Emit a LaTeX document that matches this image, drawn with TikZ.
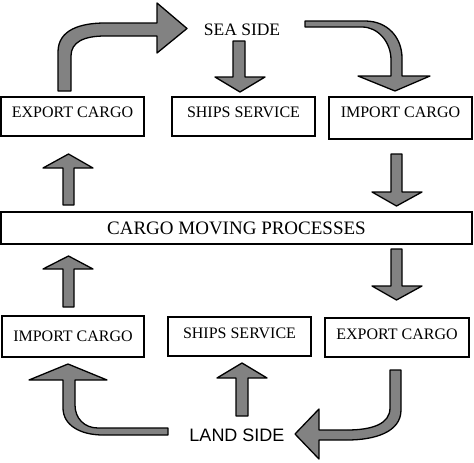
\documentclass[tikz,border=0pt]{standalone}
\usepackage{fontspec}
\setmainfont{Liberation Serif}
\newfontfamily\landfont{Liberation Sans}
\definecolor{arrowgray}{RGB}{130,130,130}
\tikzset{
  cbox/.style={draw, line width=1.5pt, inner sep=0pt, font=\fontsize{16}{18}\selectfont},
  blockarrow/.style={fill=arrowgray, draw=black, line width=1.3pt, line join=round},
  sidelabel/.style={inner sep=0pt}
}
\begin{document}
\begin{tikzpicture}[x=1pt,y=-1pt]
\useasboundingbox (0,0) rectangle (474,463);
% boxes
\node[cbox, minimum width=143pt, minimum height=39pt, text depth=8pt] (exptop) at (72.5,116.5) {EXPORT CARGO};
\node[cbox, minimum width=143pt, minimum height=39pt, text depth=8pt] (shiptop) at (243.5,116.5) {SHIPS SERVICE};
\node[cbox, minimum width=143pt, minimum height=42pt, text depth=11pt] (imptop) at (400.5,118) {IMPORT CARGO};
\node[cbox, minimum width=471pt, minimum height=32pt, font=\fontsize{19}{21}\selectfont] (mid) at (236.5,228) {CARGO MOVING PROCESSES};
\node[cbox, minimum width=142pt, minimum height=41pt] (impbot) at (73,336.5) {IMPORT CARGO};
\node[cbox, minimum width=143pt, minimum height=39pt, text depth=6pt] (shipbot) at (239.5,336.5) {SHIPS SERVICE};
\node[cbox, minimum width=144pt, minimum height=39pt, text depth=7pt] (expbot) at (397,337.5) {EXPORT CARGO};
% labels
\node[sidelabel, font=\fontsize{17.5}{19}\selectfont] (sea) at (242,30) {SEA SIDE};
\node[sidelabel, font=\landfont\fontsize{18}{20}\selectfont] (land) at (237,435.5) {LAND SIDE};
% straight block arrows
\path[blockarrow] (63,205) -- (63,168) -- (43,168) -- (68.5,154) -- (93,168) -- (74,168) -- (74,205) -- cycle;
\path[blockarrow] (63,307) -- (63,269) -- (43,269) -- (68.5,256) -- (93,269) -- (74,269) -- (74,307) -- cycle;
\path[blockarrow] (391,154) -- (391,192) -- (372,192) -- (396.5,206) -- (422,192) -- (402,192) -- (402,154) -- cycle;
\path[blockarrow] (391,249) -- (391,286) -- (372,286) -- (396.5,300) -- (422,286) -- (402,286) -- (402,249) -- cycle;
\path[blockarrow] (233,41) -- (233,77) -- (215,77) -- (240,92) -- (265,77) -- (245,77) -- (245,41) -- cycle;
\path[blockarrow] (236,416) -- (236,378) -- (217,378) -- (242,363) -- (267,378) -- (248,378) -- (248,416) -- cycle;
% curved block arrows
\path[blockarrow] (58,91) -- (58,52) .. controls (58,30) and (80,23) .. (105,23) -- (157,23) -- (157,3) -- (187,28.5)
  -- (157,53) -- (157,36) -- (105,36) .. controls (84,36) and (71,42) .. (71,56) -- (71,91) -- cycle;
\path[blockarrow] (305,21) -- (365,21) .. controls (388,21) and (402,38) .. (402,58) -- (402,76) -- (430,76) -- (395,91)
  -- (358,76) -- (391,76) -- (391,60) .. controls (391,42) and (378,27) .. (362,27) -- (305,27) -- cycle;
\path[blockarrow] (168,428) -- (98,428) .. controls (84,428) and (75,418) .. (75,405) -- (75,380) -- (107,380) -- (68,364)
  -- (29,380) -- (63,380) -- (63,408) .. controls (63,425) and (80,435) .. (103,435) -- (168,435) -- cycle;
\path[blockarrow] (390,370) -- (401,370) -- (401,410) .. controls (401,432) and (375,440) .. (347,440) -- (319,440) -- (319,459)
  -- (295,434) -- (319,409) -- (319,430) -- (347,430) .. controls (372,430) and (390,424) .. (390,408) -- cycle;
\end{tikzpicture}
\end{document}
